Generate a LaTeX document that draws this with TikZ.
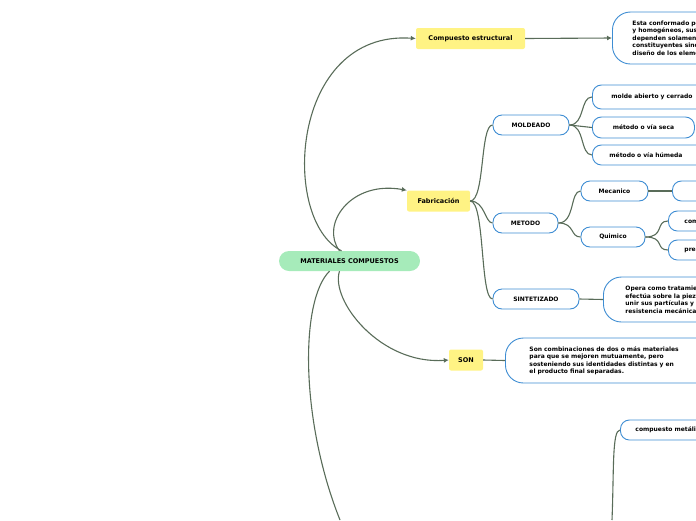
\documentclass[tikz,border=0pt]{standalone}
\usepackage{fontspec}
\setmainfont{DejaVu Sans}
\usetikzlibrary{arrows.meta}
\begin{document}
\begin{tikzpicture}[x=1pt,y=-1pt,
 conn/.style={draw=black!75!green!30!gray,line width=1.1pt},
 arr/.style={conn,-{Latex[length=5pt,width=5pt]}},
 yel/.style={fill=yellow!45!white!95!orange,rounded corners=2pt,font=\fontsize{6.5}{7}\selectfont\bfseries,inner sep=0pt,minimum height=21pt},
 blue/.style={draw=cyan!60!blue!80!white,line width=0.9pt,fill=white,rounded corners=9pt,font=\fontsize{6}{7.5}\selectfont\bfseries,inner sep=0pt,minimum height=20pt},
 lft/.style={blue,anchor=west,align=left},
 big/.style={blue,rounded corners=18pt,align=left},
]
\useasboundingbox (0,0) rectangle (696,520);
\clip (0,0) rectangle (696,520);
\node[fill=green!55!teal!35!white,rounded corners=10pt,minimum width=141pt,minimum height=20pt,inner sep=0pt,font=\fontsize{6.5}{7}\selectfont\bfseries] (c) at (349.5,261) {MATERIALES COMPUESTOS};
\node[yel,minimum width=109pt] (ce) at (470.5,38.5) {Compuesto estructural};
\node[yel,minimum width=63pt] (fa) at (438.5,201) {Fabricación};
\node[yel,minimum width=34pt] (son) at (466,360) {SON};
\node[big,minimum height=52pt,anchor=west,text width=180pt,inner xsep=20pt] (esta) at (612,38) {Esta conformado por materiales continuos\\y homogéneos, sus propiedades no\\dependen solamente de los materiales\\constituyentes sino también del\\diseño de los elementos estructurales};
\node[blue,minimum width=76pt] (mol) at (531,125) {MOLDEADO};
\node[lft,text width=110pt,inner xsep=19pt,minimum height=24pt] (m1) at (592,97) {molde abierto y cerrado};
\node[blue,minimum width=102pt,anchor=west,minimum height=21pt] (m2) at (592,127.5) {método o vía seca};
\node[lft,text width=110pt,inner xsep=17pt] (m3) at (592,155) {método o vía húmeda};
\node[blue,minimum width=65pt] (met) at (525.5,223) {METODO};
\node[blue,minimum width=67pt] (mec) at (614.5,191) {Mecanico};
\node[lft,text width=60pt,inner xsep=28pt] (tri) at (672,191) {trituración};
\node[blue,minimum width=64pt] (qui) at (613,237) {Quimico};
\node[lft,text width=60pt,inner xsep=16pt] (com) at (668,221) {combustión};
\node[lft,text width=60pt,inner xsep=16pt] (pre) at (668,250) {precipitación};
\node[blue,minimum width=86pt] (sin) at (536,299) {SINTETIZADO};
\node[big,minimum height=45pt,anchor=west,text width=180pt,inner xsep=22pt] (op) at (603,299.5) {Opera como tratamiento térmico que se\\efectúa sobre la pieza moldeada para\\unir sus partículas y darle mayor\\resistencia mecánica};
\node[big,minimum height=45pt,anchor=west,text width=220pt,inner xsep=24pt] (sc) at (505,360.5) {Son combinaciones de dos o más materiales\\para que se mejoren mutuamente, pero\\sosteniendo sus identidades distintas y en\\el producto final separadas.};
\node[lft,text width=110pt,inner xsep=15pt] (cm) at (620,430) {compuesto metálico};
\coordinate (bot) at (340,520);
\coordinate (bot2) at (612,520);
\draw[arr] (c.north) ++(-8,0) .. controls (280,220) and (290,30) .. (ce.west);
\draw[arr] (c.north) ++(-10,0) .. controls (320,225) and (350,180) .. (fa.north west);
\draw[arr] (c.south) ++(-10,0) .. controls (330,300) and (380,365) .. (son.west);
\draw[conn] (c.south) ++(-20,0) .. controls (300,300) and (300,420) .. (bot);
\draw[arr] (ce.east) -- (esta.west);
\draw[conn] (son.east) -- (sc.west);
\draw[conn] (fa.east) .. controls (485,201) and (480,125) .. (mol.west);
\draw[conn] (fa.east) .. controls (485,201) and (485,223) .. (met.west);
\draw[conn] (fa.east) .. controls (485,201) and (480,299) .. (sin.west);
\draw[conn] (mol.east) .. controls (585,125) and (580,97) .. (m1.west);
\draw[conn] (mol.east) -- (m2.west);
\draw[conn] (mol.east) .. controls (585,125) and (580,155) .. (m3.west);
\draw[conn] (met.east) .. controls (575,223) and (570,191) .. (mec.west);
\draw[conn] (met.east) .. controls (575,223) and (570,237) .. (qui.west);
\draw[conn] (mec.east) -- (tri.west);
\draw[conn] (qui.east) .. controls (665,237) and (655,221) .. (com.west);
\draw[conn] (qui.east) .. controls (665,237) and (655,250) .. (pre.west);
\draw[conn] (sin.east) -- (op.west);
\draw[conn] (cm.west) .. controls (612,430) and (614,470) .. (bot2);
\end{tikzpicture}
\end{document}
